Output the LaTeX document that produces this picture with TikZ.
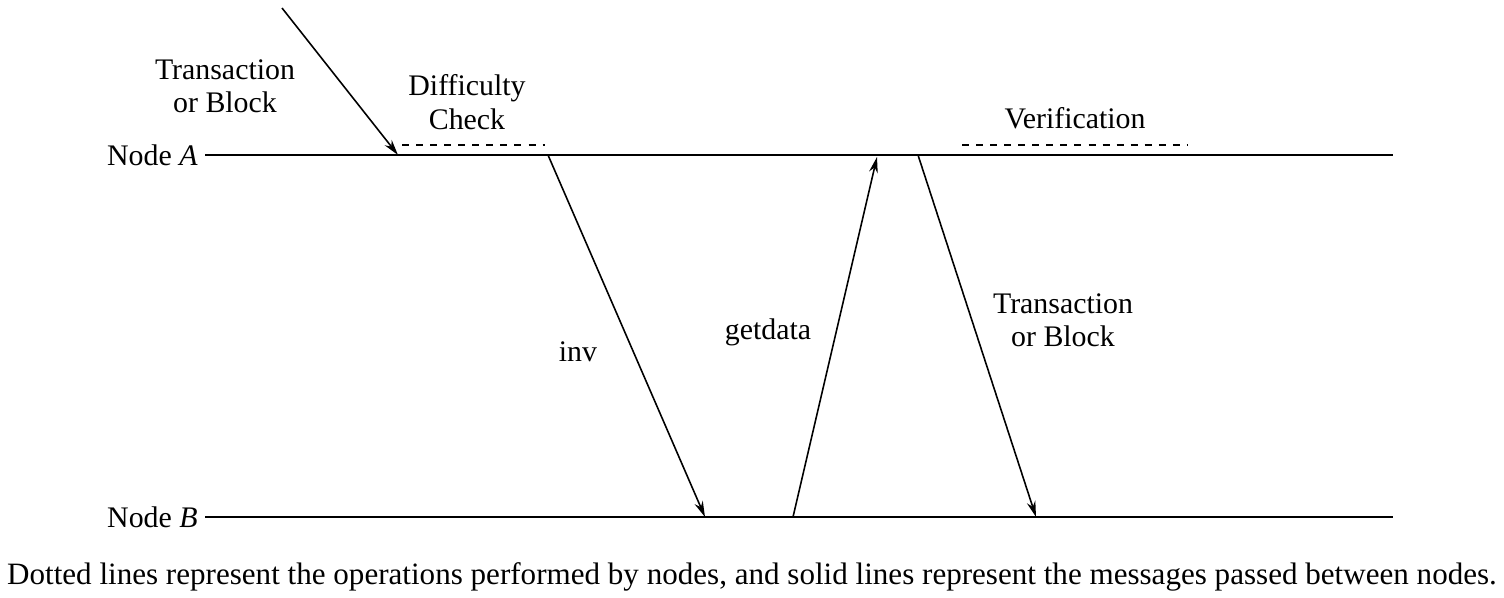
\documentclass[tikz,border=0pt]{standalone}
\usepackage{fontspec}
\setmainfont{Liberation Serif}
\usetikzlibrary{arrows.meta}
\begin{document}
\begin{tikzpicture}[x=0.02cm,y=-0.02cm,
  lbl/.style={font=\fontsize{17}{19}\selectfont,align=center,inner sep=0pt},
  msg/.style={line width=0.9pt,-{Stealth[length=9pt,width=5pt]}},
  op/.style={line width=1.6pt,dash pattern=on 4pt off 4pt},
  axis/.style={line width=0.9pt}]
\useasboundingbox (0,0) rectangle (1504,598);
\node[lbl,anchor=east] (la) at (198,155) {Node \textit{A}};
\node[lbl,anchor=east] (lb) at (198,517) {Node \textit{B}};
\coordinate (a0) at (205,155); \coordinate (a1) at (1393,155);
\coordinate (b0) at (205,517); \coordinate (b1) at (1393,517);
\draw[axis] (a0) -- (a1);
\draw[axis] (b0) -- (b1);
\coordinate (in) at (282,8); \coordinate (inEnd) at (398,155);
\draw[msg] (in) -- (inEnd);
\node[lbl] (t1) at (225,86) {Transaction\\or Block};
\coordinate (d0) at (402,145); \coordinate (d1) at (545,145);
\draw[op] (d0) -- (d1);
\node[lbl] (dc) at (467,102) {Difficulty\\Check};
\coordinate (invS) at (548,155); \coordinate (invE) at (705,517);
\draw[msg] (invS) -- (invE);
\node[lbl] (inv) at (578,352) {inv};
\coordinate (gS) at (793,517); \coordinate (gE) at (877,157);
\draw[msg] (gS) -- (gE);
\node[lbl] (gd) at (768,332) {getdata};
\coordinate (tS) at (918,155); \coordinate (tE) at (1036,517);
\draw[msg] (tS) -- (tE);
\node[lbl] (t2) at (1063,320) {Transaction\\or Block};
\coordinate (v0) at (962,145); \coordinate (v1) at (1187,145);
\draw[op] (v0) -- (v1);
\node[lbl] (ver) at (1075,118) {Verification};
\node[inner sep=0pt] (cap) at (752,577) {\resizebox{29.8cm}{!}{\fontsize{17}{19}\selectfont Dotted lines represent the operations performed by nodes, and solid lines represent the messages passed between nodes.}};
\end{tikzpicture}
\end{document}
